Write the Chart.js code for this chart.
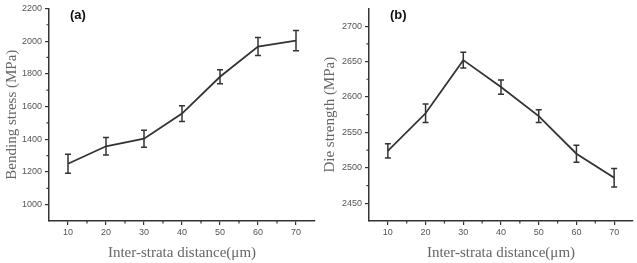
<!DOCTYPE html>
<html>
<head>
<meta charset="utf-8">
<script src="https://cdn.jsdelivr.net/npm/chart.js@4"></script>
<style>
  body { margin: 0; background: #fff; }
  #wrap { display: flex; width: 637px; height: 263px; }
  .box { position: relative; height: 263px; }
</style>
</head>
<body>
<div id="wrap">
  <div class="box" style="width:318px"><canvas id="chart-a"></canvas></div>
  <div class="box" style="width:319px"><canvas id="chart-b"></canvas></div>
</div>
<script>
// data
const distances = [10, 20, 30, 40, 50, 60, 70];
const bendingStress = [1250, 1357, 1403, 1557, 1782, 1967, 2003];
const bendingErr = [58, 53, 52, 48, 43, 55, 62];
const dieStrength = [2524, 2577, 2652, 2614, 2573, 2520, 2486];
const dieErr = [10, 13, 11, 10, 9, 12, 13];
const bendingTicks = [1000, 1200, 1400, 1600, 1800, 2000, 2200];
const dieTicks = [2450, 2500, 2550, 2600, 2650, 2700];
const xMinor = [15, 25, 35, 45, 55, 65];
const bendingMinor = [1100, 1300, 1500, 1700, 1900, 2100];
const dieMinor = [2475, 2525, 2575, 2625, 2675];

const axisColor = '#333';

// error bars, minor ticks and panel letter
const extras = {
  id: 'extras',
  afterDatasetsDraw(chart, args, opts) {
    const { ctx, scales: { x, y } } = chart;
    ctx.save();
    ctx.strokeStyle = '#333';
    ctx.lineWidth = 1.5;
    opts.values.forEach((v, i) => {
      const px = x.getPixelForValue(distances[i]);
      const top = y.getPixelForValue(v + opts.errors[i]);
      const bot = y.getPixelForValue(v - opts.errors[i]);
      ctx.beginPath();
      ctx.moveTo(px, top); ctx.lineTo(px, bot);
      ctx.moveTo(px - 3, top); ctx.lineTo(px + 3, top);
      ctx.moveTo(px - 3, bot); ctx.lineTo(px + 3, bot);
      ctx.stroke();
    });
    ctx.restore();
  },
  afterDraw(chart, args, opts) {
    const { ctx, scales: { x, y }, chartArea } = chart;
    ctx.save();
    ctx.strokeStyle = axisColor;
    ctx.lineWidth = 1.2;
    ctx.beginPath();
    xMinor.forEach(v => {
      const px = x.getPixelForValue(v);
      ctx.moveTo(px, chartArea.bottom); ctx.lineTo(px, chartArea.bottom + 2.5);
    });
    opts.yMinor.forEach(v => {
      const py = y.getPixelForValue(v);
      ctx.moveTo(chartArea.left, py); ctx.lineTo(chartArea.left - 2.5, py);
    });
    ctx.stroke();
    ctx.fillStyle = '#111';
    ctx.font = 'bold 13px "Liberation Sans", Arial, sans-serif';
    ctx.textBaseline = 'middle';
    ctx.fillText(opts.label, chartArea.left + 21, 15);
    ctx.restore();
  }
};

function makeChart(id, values, errors, ticks, yMin, yMax, yMinor, yTitle, label, leftW, rightPad) {
  return new Chart(document.getElementById(id), {
    type: 'line',
    data: {
      datasets: [{
        data: distances.map((d, i) => ({ x: d, y: values[i] })),
        borderColor: '#333',
        borderWidth: 1.8,
        pointRadius: 0,
        tension: 0
      }]
    },
    options: {
      responsive: true,
      maintainAspectRatio: false,
      animation: false,
      layout: { padding: { top: 5, right: rightPad, left: 0, bottom: 0 } },
      plugins: {
        legend: { display: false },
        tooltip: { enabled: false },
        extras: { values, errors, yMinor, label }
      },
      scales: {
        x: {
          type: 'linear',
          min: 5,
          max: 75,
          afterBuildTicks: s => { s.ticks = distances.map(v => ({ value: v })); },
          afterFit: s => { s.height = 42; },
          grid: { drawOnChartArea: false, tickLength: 4, color: axisColor, lineWidth: 1.2 },
          border: { color: axisColor, width: 1.5 },
          ticks: { padding: 2, color: '#555', font: { family: '"Liberation Sans", Arial', size: 9 },
                   callback: v => String(v) },
          title: {
            display: true,
            text: 'Inter-strata distance(\u03bcm)',
            color: '#666',
            padding: { top: 0, bottom: 1 },
            font: { family: '"Liberation Serif", "Times New Roman", serif', size: 15 }
          }
        },
        y: {
          min: yMin,
          max: yMax,
          afterBuildTicks: s => { s.ticks = ticks.map(v => ({ value: v })); },
          afterFit: s => { s.width = leftW; },
          grid: { drawOnChartArea: false, tickLength: 4, color: axisColor, lineWidth: 1.2 },
          border: { color: axisColor, width: 1.5 },
          ticks: { padding: 3, color: '#555', font: { family: '"Liberation Sans", Arial', size: 9 },
                   callback: v => String(v) },
          title: {
            display: true,
            text: yTitle,
            color: '#666',
            padding: { top: 3, bottom: 0 },
            font: { family: '"Liberation Serif", "Times New Roman", serif', size: 15 }
          }
        }
      }
    },
    plugins: [extras]
  });
}

makeChart('chart-a', bendingStress, bendingErr, bendingTicks, 900, 2200, bendingMinor,
  'Bending stress (MPa)', '(a)', 49, 3);
makeChart('chart-b', dieStrength, dieErr, dieTicks, 2425, 2725, dieMinor,
  'Die strength (MPa)', '(b)', 51, 4);
</script>
</body>
</html>
